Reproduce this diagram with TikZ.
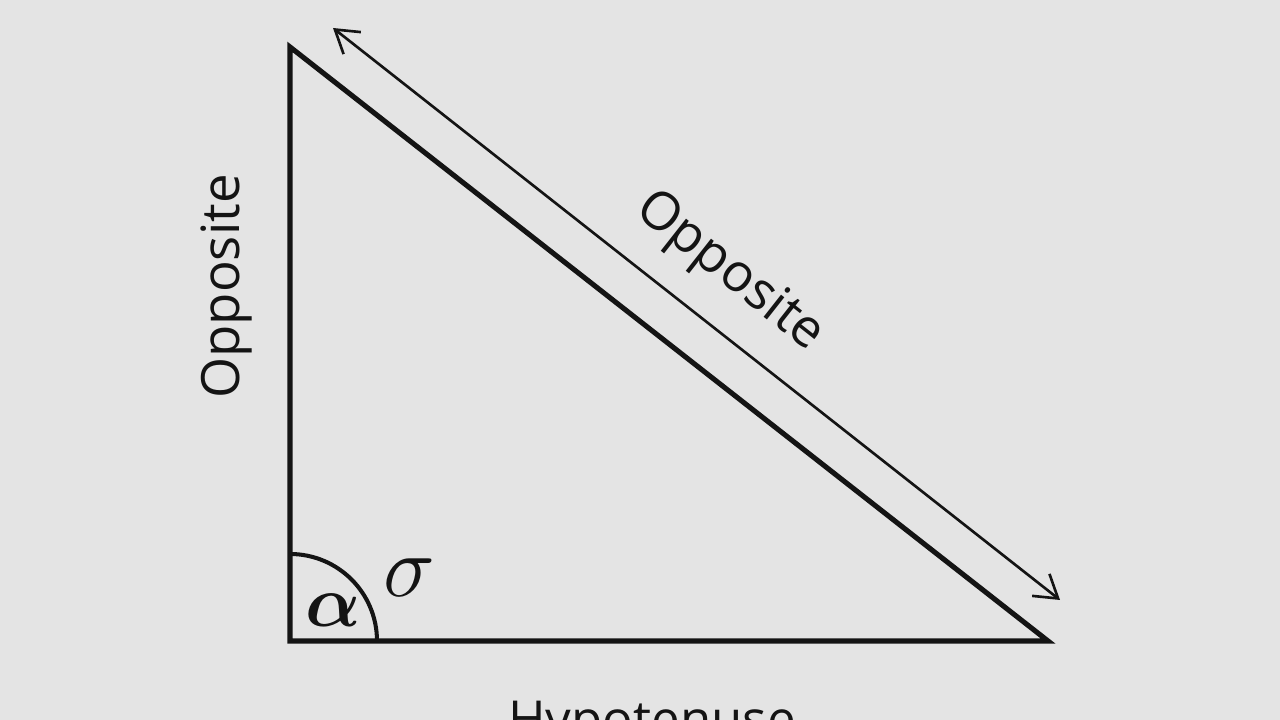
\documentclass[tikz,border=0pt]{standalone}
\usepackage{fontspec}
\setsansfont{Open Sans}
\usetikzlibrary{positioning,calc,arrows.meta}
\definecolor{bgray}{HTML}{E4E4E4}
\definecolor{ink}{HTML}{141414}

\begin{document}
\begin{tikzpicture}[auto, >={Straight Barb[length=2.2mm,width=2.8mm]}, thick,
    side/.style={draw=ink, line width=1.45pt, line cap=round},
    lbl/.style={font=\sffamily\fontsize{15}{18}\selectfont, text=ink},
    greek/.style={text=ink, inner sep=0pt}]
    \fill [bgray] (0,0) rectangle (12.8,7.2);
    \clip (0,0) rectangle (12.8,7.2);

    \coordinate (top) at (2.90,6.73);
    \coordinate (corner) at (2.90,0.79);
    \coordinate (far) at (10.48,0.79);
    \coordinate (hs) at (3.33,6.92);
    \coordinate (he) at (10.60,1.20);

    \draw [side] (top) -- (corner) -- (far) -- cycle;
    \draw [draw=ink, line width=1.15pt] ($(corner)+(0.87,0)$) arc (0:90:0.87);
    \draw [<->, draw=ink, line width=0.75pt] (hs) -- (he)
        node [lbl, midway, sloped, above=4pt] (hyplbl) {Opposite};

    \node [lbl, rotate=90, anchor=base] (opplbl) at (2.39,4.335) {Opposite};
    \node [lbl, anchor=base, font=\sffamily\fontsize{14.5}{18}\selectfont] (botlbl) at (6.52,-0.18) {Hypotenuse};
    \node [greek, font=\usefont{OML}{cmm}{b}{it}\fontsize{21}{25}\selectfont] (alphalbl) at (3.33,1.10) {\char11};
    \node [greek, font=\usefont{OML}{cmm}{m}{it}\fontsize{28}{32}\selectfont] (sigmalbl) at (4.08,1.42) {\char27};
\end{tikzpicture}
\end{document}
